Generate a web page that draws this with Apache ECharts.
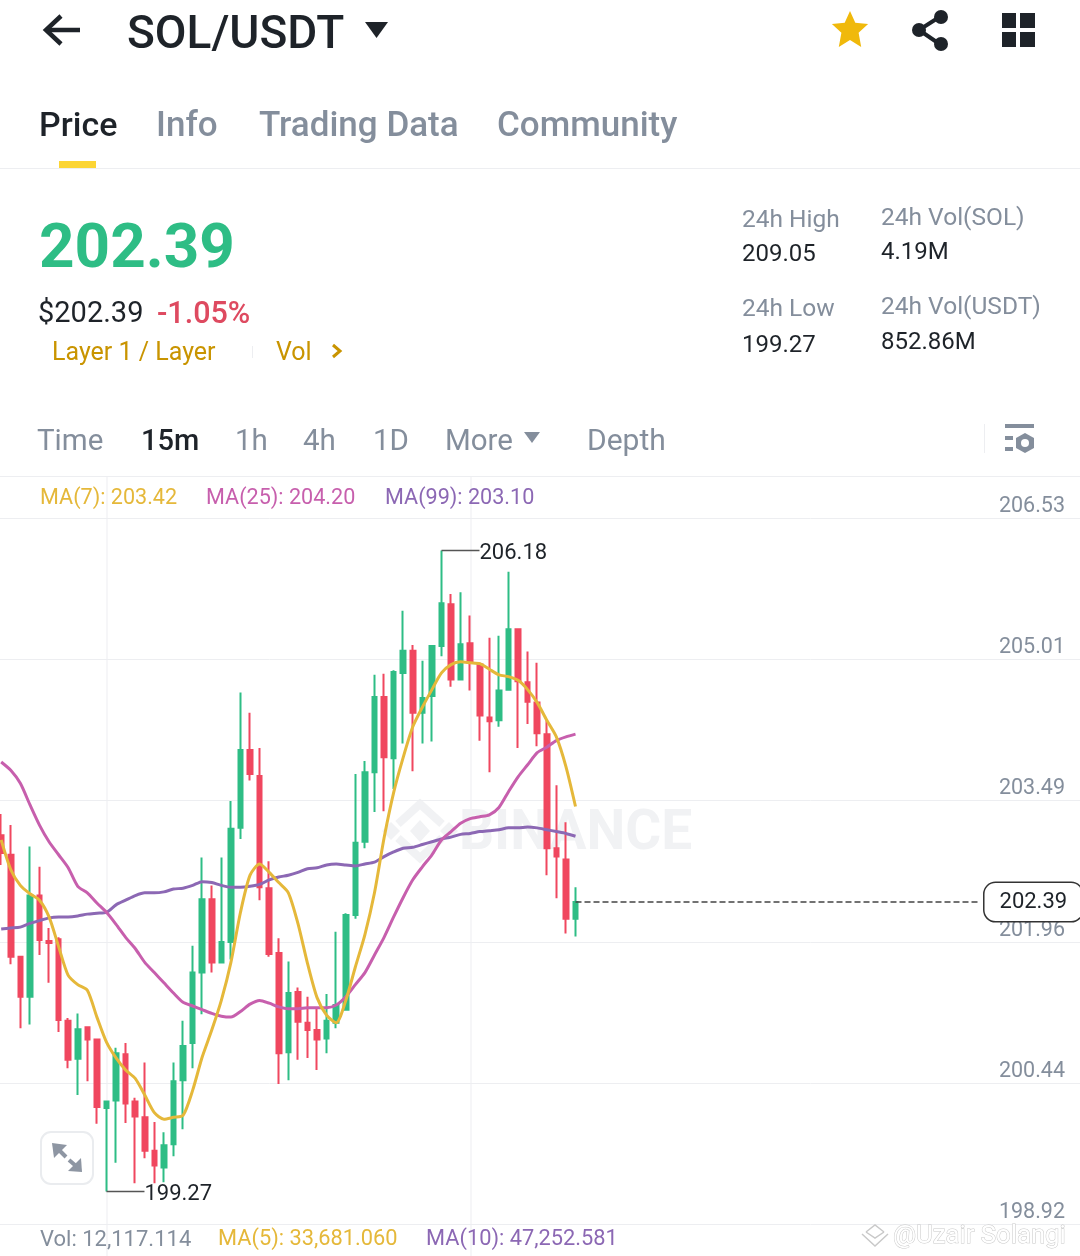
<!DOCTYPE html>
<html>
<head>
<meta charset="utf-8">
<title>SOL/USDT</title>
<script src="https://cdn.jsdelivr.net/npm/echarts@6/dist/echarts.min.js"></script>
<style>
html, body { margin: 0; padding: 0; background: #fff; }
#main { width: 1080px; height: 1256px; }
</style>
</head>
<body>
<div id="main"></div>
<script>
var opens = [203.11,202.90,201.80,201.37,202.46,201.97,201.99,201.11,200.70,201.04,200.91,200.17,200.25,200.75,200.24,200.07,199.71,199.53,199.78,200.47,
    200.87,201.63,202.42,201.74,201.96,203.19,204.03,203.75,202.54,201.84,200.77,201.42,201.09,201.01,200.92,201.09,201.23,202.25,203.04,203.79,
    204.60,203.94,204.86,205.10,204.43,204.61,205.15,205.60,204.79,205.18,204.95,204.38,204.35,204.68,205.33,204.76,204.54,204.20,202.97,202.85,202.21];
var closes = [202.92,201.80,201.37,202.46,201.98,201.95,201.12,200.69,201.02,200.91,200.18,200.24,200.76,200.22,200.08,199.71,199.55,199.77,200.46,200.84,
    201.63,202.42,201.74,201.96,203.18,204.03,203.77,202.55,201.83,200.76,201.41,201.10,201.01,200.91,201.11,201.28,202.25,203.03,203.79,204.60,
    203.95,204.87,205.10,204.43,204.59,205.15,205.61,204.79,205.17,204.97,204.40,204.34,204.67,205.33,204.77,204.55,204.21,202.97,202.88,202.21,202.39];
var lows = [202.79,201.72,201.03,201.07,201.82,201.52,200.99,200.60,200.31,200.46,200.00,199.27,199.58,200.01,199.36,199.63,199.36,199.37,199.65,199.94,
    200.60,201.18,201.63,201.73,201.77,203.07,203.70,202.41,201.80,200.43,200.47,200.69,200.71,200.58,200.76,201.03,201.22,202.21,202.97,203.36,
    203.37,203.61,204.10,203.80,204.10,204.12,205.04,204.71,204.78,204.67,204.13,203.79,204.28,204.67,204.05,204.31,204.07,202.68,202.43,202.05,202.02];
var highs = [203.34,203.22,201.80,202.99,202.77,202.11,202.01,201.14,201.19,201.05,200.92,200.25,200.82,200.87,200.28,200.66,200.02,199.91,200.66,201.11,
    201.92,202.87,202.57,202.87,203.48,204.65,204.43,204.05,202.83,202.00,201.75,201.47,201.37,201.24,201.40,202.07,202.27,203.77,203.91,204.84,
    204.85,204.89,205.53,205.16,204.99,205.15,206.18,205.71,205.73,205.48,204.97,205.24,205.26,205.95,205.34,205.09,204.97,204.35,203.65,203.25,202.55];
var ma7 = [203.06,202.74,202.57,202.48,202.41,202.23,201.91,201.60,201.50,201.44,201.15,200.88,200.71,200.58,200.49,200.31,200.12,200.05,200.07,200.09,
    200.36,200.72,201.01,201.33,201.74,202.28,202.68,202.80,202.71,202.60,202.49,202.16,201.73,201.36,201.17,201.09,201.33,201.69,202.04,202.49,
    203.08,203.57,203.95,204.28,204.49,204.68,204.86,204.95,204.98,204.97,204.96,204.90,204.84,204.82,204.78,204.68,204.54,204.35,204.17,203.85,203.42];
var ma25 = [203.90,203.81,203.67,203.44,203.22,203.04,202.90,202.76,202.56,202.49,202.38,202.28,202.15,202.01,201.89,201.74,201.63,201.52,201.41,201.31,
    201.27,201.23,201.19,201.16,201.15,201.21,201.29,201.33,201.30,201.26,201.24,201.24,201.25,201.25,201.25,201.28,201.37,201.50,201.63,201.82,
    202.01,202.23,202.44,202.63,202.77,202.90,203.06,203.15,203.24,203.29,203.31,203.33,203.41,203.58,203.74,203.87,204.00,204.06,204.13,204.17,204.20];
var ma99 = [202.10,202.11,202.12,202.16,202.19,202.22,202.23,202.23,202.24,202.26,202.27,202.28,202.36,202.41,202.46,202.49,202.49,202.50,202.53,202.54,
    202.57,202.61,202.60,202.57,202.55,202.55,202.56,202.58,202.63,202.66,202.68,202.71,202.75,202.76,202.79,202.80,202.79,202.78,202.80,202.82,
    202.88,202.93,202.97,202.98,203.01,203.04,203.07,203.09,203.12,203.13,203.15,203.16,203.17,203.19,203.19,203.20,203.19,203.17,203.15,203.13,203.10];
var priceTicks = [198.92, 200.44, 201.96, 203.49, 205.01, 206.53];
var lastPrice = 202.39;
var highPoint = [46, 206.18];
var lowPoint = [11, 199.27];
// the chart leaves empty slots to the right of the last candle
var slots = [];
for (var s = 0; s < 114; s++) slots.push(String(s));

var GREEN = '#2EBD85', RED = '#F0475F', DARK = '#1E2329', GREY = '#848E9C', GOLD = '#C99400', LINE = '#EDEEF1';
var C7 = '#E5B83A', C25 = '#C75FAD', C99 = '#8C68B4';
var FONT = 'Roboto, sans-serif';

function txt(text, x, y, size, fill, weight, z) {
    return {
        type: 'text', z: z || 10, silent: true,
        style: { text: text, x: x, y: y, fill: fill, align: 'left', verticalAlign: 'middle',
            font: (weight || 400) + ' ' + size + 'px ' + FONT }
    };
}
function poly(points, fill, z) {
    return { type: 'polygon', z: z || 10, silent: true, shape: { points: points }, style: { fill: fill } };
}
function stroke(points, color, width, z) {
    return { type: 'polyline', z: z || 10, silent: true, shape: { points: points },
        style: { stroke: color, lineWidth: width, fill: 'none' } };
}
function box(x, y, w, h, fill, z) {
    return { type: 'rect', z: z || 10, silent: true, shape: { x: x, y: y, width: w, height: h }, style: { fill: fill } };
}
function dot(cx, cy, r, fill, z) {
    return { type: 'circle', z: z || 10, silent: true, shape: { cx: cx, cy: cy, r: r }, style: { fill: fill } };
}

var chrome = [
    // header
    stroke([[46, 30], [80, 30]], DARK, 4.5),
    stroke([[61, 16], [46, 30], [61, 44]], DARK, 4.5),
    txt('SOL/USDT', 127, 36, 46, DARK, 500),
    poly([[365, 22], [388, 22], [376.5, 38]], DARK),
    poly([[850, 11], [855.3, 22.7], [868.1, 24.1], [858.6, 32.8], [861.2, 47], [850, 40], [838.8, 47], [841.4, 32.8], [831.9, 24.1], [844.7, 22.7]], '#F0B90B'),
    stroke([[941, 16], [919, 30], [941, 45]], DARK, 4),
    dot(941, 17, 7, DARK), dot(919, 30, 7, DARK), dot(941, 44, 7, DARK),
    box(1002, 13, 14, 15, DARK), box(1020, 13, 15, 15, DARK), box(1002, 32, 14, 15, DARK), box(1020, 32, 15, 15, DARK),
    // tabs
    txt('Price', 39, 127, 34, DARK, 500),
    txt('Info', 156, 127, 35, GREY, 500),
    txt('Trading Data', 259, 127, 35, GREY, 500),
    txt('Community', 497, 127, 35, GREY, 500),
    box(59, 161, 37, 7, '#FCD535'),
    box(0, 168, 1080, 1, LINE),
    // price block
    txt('202.39', 39, 251, 62, GREEN, 700),
    txt('$202.39', 38, 315, 29, DARK, 400),
    txt('-1.05%', 157, 315, 30.5, '#DE4A60', 500),
    txt('Layer 1 / Layer', 52, 354, 25, GOLD),
    box(252, 346, 1, 12, LINE),
    txt('Vol', 276, 354, 25, GOLD),
    stroke([[333, 345], [340, 351], [333, 357]], GOLD, 3),
    txt('24h High', 742, 221, 24.5, GREY),
    txt('209.05', 742, 255, 24, DARK),
    txt('24h Vol(SOL)', 881, 219, 24.5, GREY),
    txt('4.19M', 881, 253, 24, DARK),
    txt('24h Low', 742, 310, 24.5, GREY),
    txt('199.27', 742, 346, 24, DARK),
    txt('24h Vol(USDT)', 881, 308, 24.5, GREY),
    txt('852.86M', 881, 343, 24, DARK),
    // interval row
    txt('Time', 37, 443, 29.5, GREY),
    txt('15m', 141, 443, 29, DARK, 500),
    txt('1h', 235, 443, 29.5, GREY),
    txt('4h', 303, 443, 29.5, GREY),
    txt('1D', 373, 443, 29.5, GREY),
    txt('More', 445, 443, 29.5, GREY),
    poly([[524, 432], [540, 432], [532, 443]], GREY),
    txt('Depth', 587, 442, 30, GREY),
    box(984, 424, 1, 29, LINE),
    box(1005, 424, 29, 4, GREY), box(1005, 436, 8, 4, GREY), box(1005, 447, 8, 4, GREY),
    poly([[1025, 433], [1034, 438], [1034, 448], [1025, 453], [1016, 448], [1016, 438]], GREY),
    dot(1025, 443, 4, '#fff'),
    box(0, 476, 1080, 1, LINE, -1),
    // vertical grid runs past the plot at both ends
    box(106.5, 476, 1, 780, LINE, -1),
    box(470.5, 476, 1, 780, LINE, -1),
    // MA legends
    txt('MA(7): 203.42', 40, 499, 21.6, C7),
    txt('MA(25): 204.20', 206, 499, 21.6, C25),
    txt('MA(99): 203.10', 385, 499, 21.6, C99),
    txt('Vol: 12,117.114', 40, 1240, 22, GREY),
    txt('MA(5): 33,681.060', 218, 1240, 21.8, C7),
    txt('MA(10): 47,252.581', 426, 1240, 21.8, C99),
    // exchange watermark
    stroke([[398, 824], [420, 804], [442, 824]], '#F1F2F4', 8, -1),
    stroke([[398, 838], [420, 858], [442, 838]], '#F1F2F4', 8, -1),
    poly([[420, 820], [430, 831], [420, 842], [410, 831]], '#F1F2F4', -1),
    poly([[391, 822], [400, 831], [391, 840], [382, 831]], '#F1F2F4', -1),
    poly([[449, 822], [458, 831], [449, 840], [440, 831]], '#F1F2F4', -1),
    txt('BINANCE', 459, 835, 55, '#F1F2F4', 700, -1),
    // expand button
    { type: 'rect', z: 10, silent: true, shape: { x: 41, y: 1132, width: 52, height: 52, r: 10 },
        style: { fill: '#fff', stroke: '#EAECEF', lineWidth: 2 } },
    poly([[52, 1143], [67, 1145], [54, 1158]], '#8E96A3'),
    poly([[82, 1172], [68, 1171], [81, 1158]], '#8E96A3'),
    stroke([[59, 1150], [66, 1157]], '#8E96A3', 4),
    stroke([[69, 1160], [76, 1166]], '#8E96A3', 4),
    // author watermark
    { type: 'text', z: 10, silent: true, style: { text: '@Uzair Solangi', x: 893, y: 1237, align: 'left', verticalAlign: 'middle',
        font: '400 25.7px ' + FONT, fill: '#fff', stroke: '#C9C9C9', lineWidth: 1 } },
    stroke([[862, 1234], [875, 1246], [888, 1234]], '#C9C9C9', 1.5),
    stroke([[866, 1232], [875, 1238], [884, 1232]], '#C9C9C9', 1.5),
    stroke([[866, 1232], [875, 1225], [884, 1232]], '#C9C9C9', 1.5)
];

function extremeMark(coord) {
    return {
        coord: coord,
        label: {
            show: true, position: 'right', distance: 0,
            formatter: '{l|}{t|' + coord[1].toFixed(2) + '}',
            rich: {
                l: { width: 38, height: 1.5, backgroundColor: '#555' },
                t: { color: DARK, fontSize: 22, fontFamily: FONT, padding: [6, 0, 0, 0] }
            }
        }
    };
}
function maLine(name, data, color) {
    return { name: name, type: 'line', data: data, smooth: 0.25, showSymbol: false, silent: true,
        lineStyle: { color: color, width: 3 }, z: 3 };
}

var candles = opens.map(function (o, i) { return [o, closes[i], lows[i], highs[i]]; });

var myChart = echarts.init(document.getElementById('main'), null, { renderer: 'canvas' });
var option = {
    animation: false,
    backgroundColor: '#fff',
    grid: { left: -3.6, right: -7.6, top: 518, bottom: 32, containLabel: false, outerBoundsMode: 'none' },
    xAxis: {
        type: 'category',
        data: slots,
        axisLine: { show: false },
        axisTick: { show: false },
        axisLabel: { show: false },
        splitLine: { show: false }
    },
    yAxis: {
        type: 'value',
        position: 'right',
        min: 198.92,
        max: 206.53,
        scale: true,
        axisLine: { show: false },
        axisTick: { show: false, customValues: priceTicks },
        splitLine: { show: true, lineStyle: { color: LINE, width: 1 } },
        axisLabel: {
            inside: true, margin: 22.6, customValues: priceTicks,
            formatter: function (v) { return v.toFixed(2); },
            color: GREY, fontSize: 21.5, fontFamily: FONT, verticalAlign: 'bottom'
        }
    },
    graphic: { elements: chrome },
    series: [
        {
            name: 'SOL/USDT', type: 'candlestick', data: candles, barWidth: 5, silent: true, z: 2,
            itemStyle: { color: GREEN, color0: RED, borderColor: GREEN, borderColor0: RED, borderWidth: 2 },
            markPoint: {
                symbolSize: 0, silent: true, animation: false,
                data: [extremeMark(highPoint), extremeMark(lowPoint)]
            },
            markLine: {
                symbol: 'none', silent: true, animation: false,
                lineStyle: { type: 'dashed', color: '#444', width: 1.5 },
                label: {
                    show: true, position: 'end', distance: 7,
                    formatter: lastPrice.toFixed(2),
                    color: DARK, fontSize: 22, fontFamily: FONT,
                    backgroundColor: '#fff', borderColor: '#333', borderWidth: 1.5, borderRadius: 11,
                    padding: [12, 15, 4, 15]
                },
                data: [[{ coord: [60, lastPrice] }, { coord: [102, lastPrice] }]]
            }
        },
        maLine('MA(99)', ma99, C99),
        maLine('MA(25)', ma25, C25),
        maLine('MA(7)', ma7, C7)
    ]
};
myChart.setOption(option);
</script>
</body>
</html>
